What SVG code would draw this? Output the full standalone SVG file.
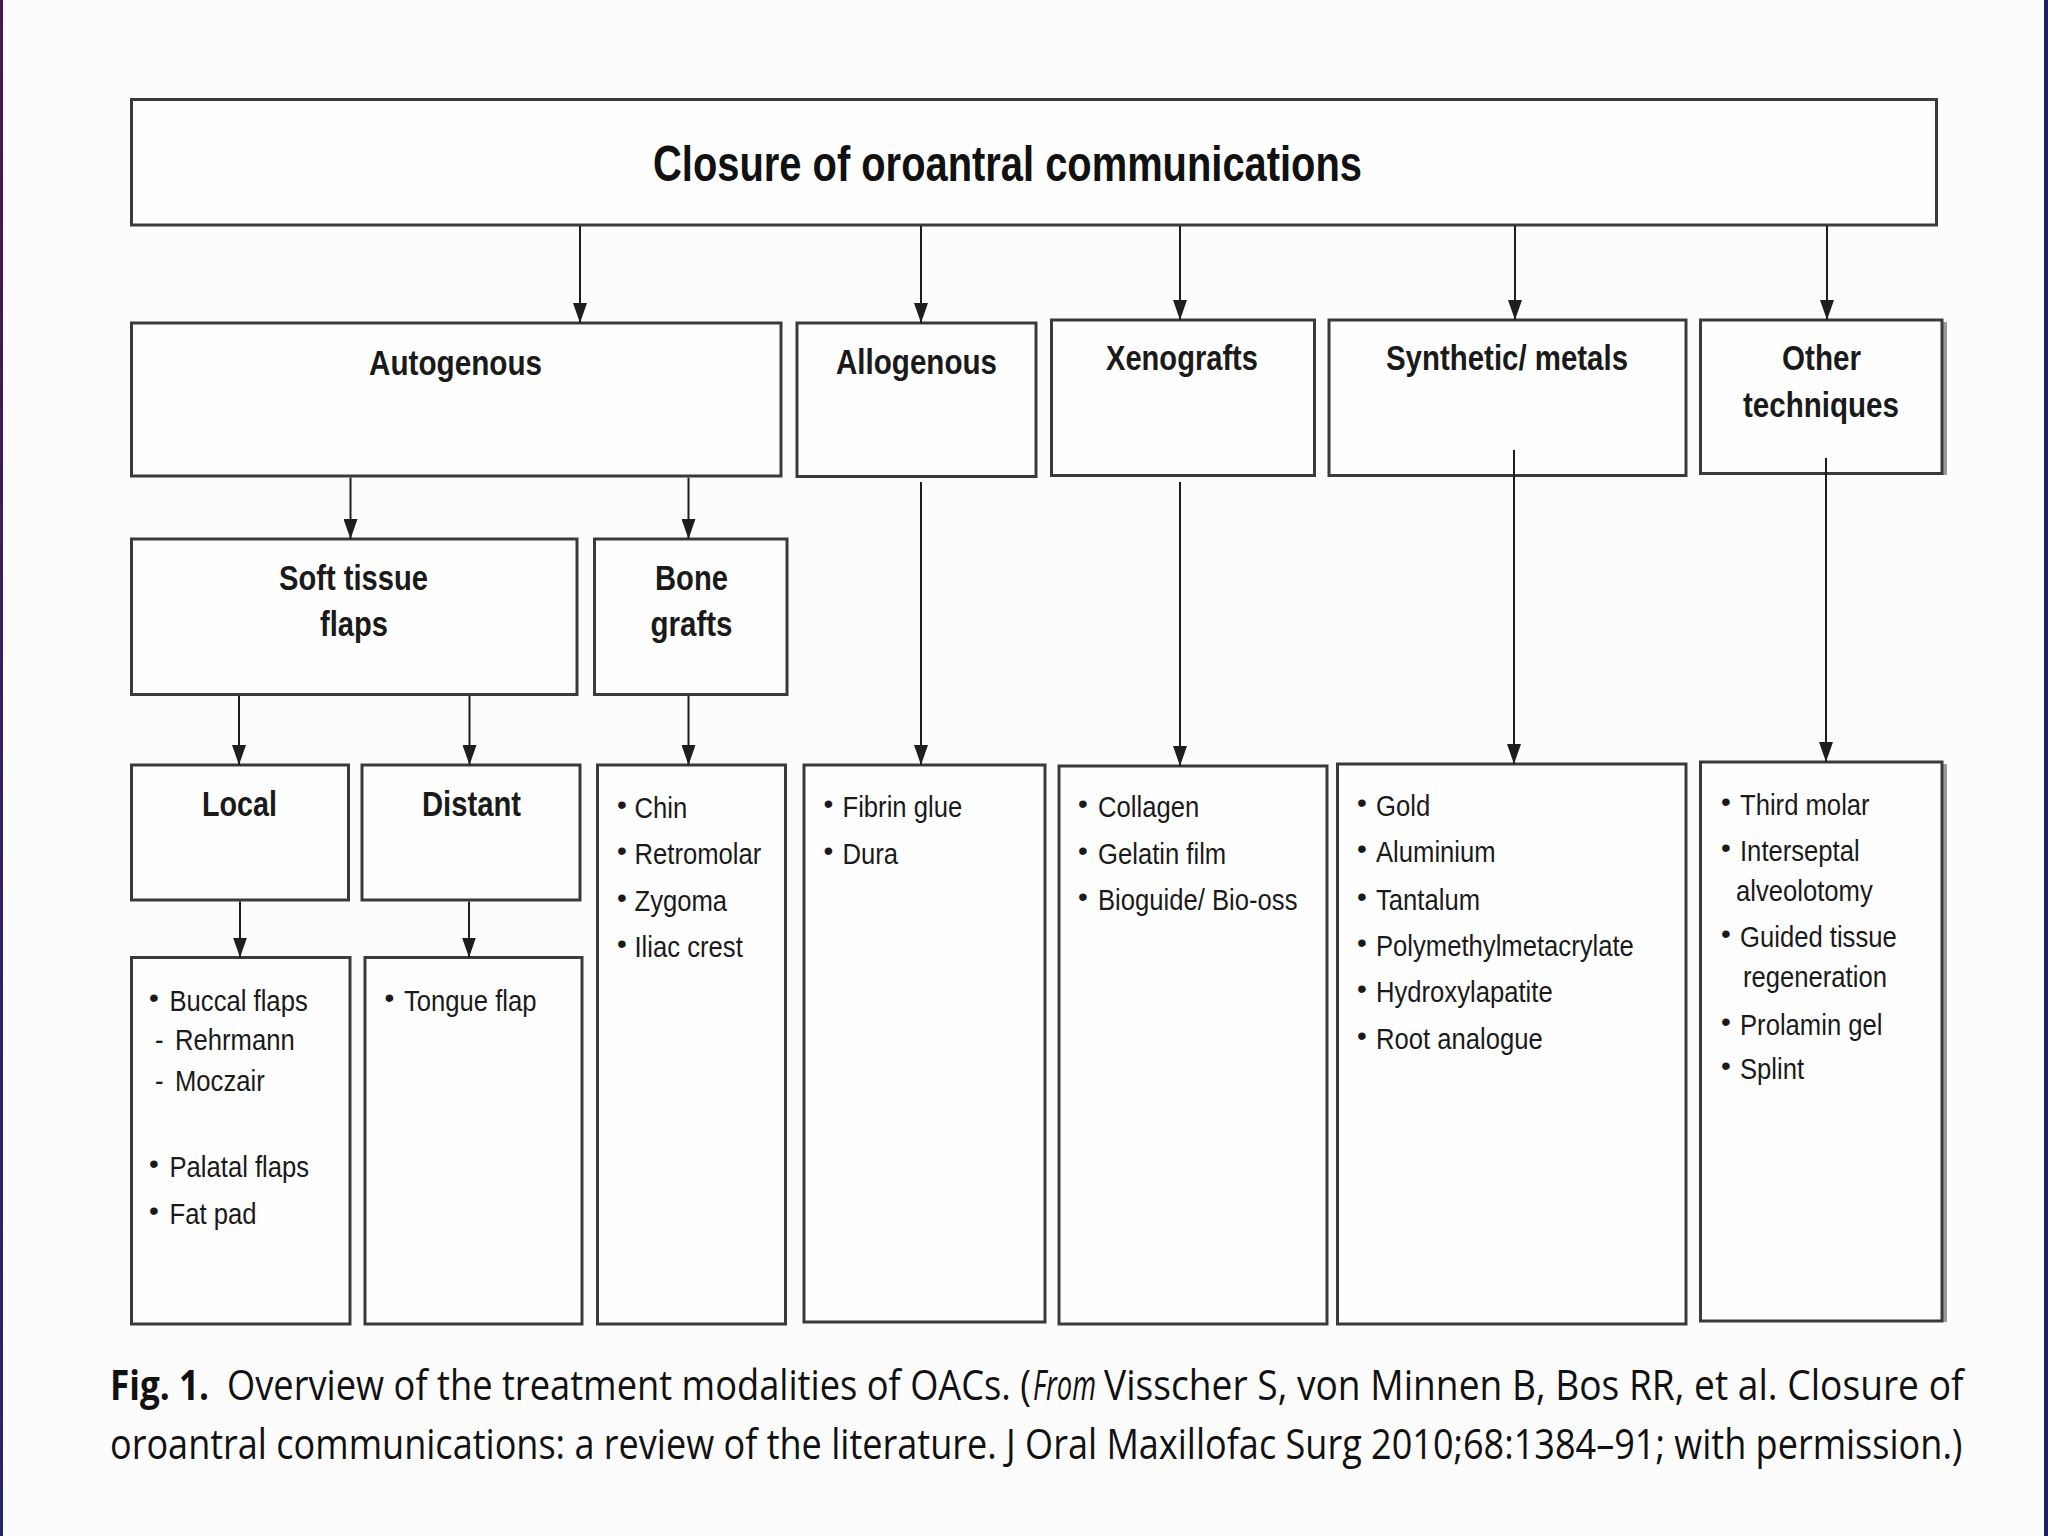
<svg xmlns="http://www.w3.org/2000/svg" width="2048" height="1536" viewBox="0 0 2048 1536">
  <style>
    .box { fill: #fefefe; stroke: #3a3a3a; stroke-width: 3; }
    .shadow { fill: none; stroke: #9a9a9a; stroke-width: 4; }
    .hd { font-family: "Liberation Sans", Arial, sans-serif; font-weight: bold; font-size: 35px; fill: #1a1a1a; }
    .ttl { font-family: "Liberation Sans", Arial, sans-serif; font-weight: bold; font-size: 50px; fill: #111; }
    .li { font-family: "Liberation Sans", Arial, sans-serif; font-size: 30px; fill: #1a1a1a; }
    .bu { font-family: "Liberation Sans", Arial, sans-serif; font-size: 28px; fill: #1a1a1a; text-anchor: middle; }
    .cap { font-family: "Open Sans", "Liberation Sans", sans-serif; font-size: 42px; fill: #111; }
    .con { fill: none; stroke: #1e1e1e; stroke-width: 2; marker-end: url(#arr); }
  </style>
  <defs>
    <marker id="arr" viewBox="0 0 20 14" refX="20" refY="7" markerWidth="20" markerHeight="14" markerUnits="userSpaceOnUse" orient="auto">
      <path d="M0,0 L20,7 L0,14 z" fill="#1e1e1e"/>
    </marker>
    <linearGradient id="edge" x1="0" y1="0" x2="0" y2="1">
      <stop offset="0" stop-color="#4a1858"/>
      <stop offset="1" stop-color="#23286e"/>
    </linearGradient>
  </defs>

  <rect x="0" y="0" width="2048" height="1536" fill="#fdfcfd"/>
  <rect x="0" y="0" width="3" height="1536" fill="url(#edge)"/>
  <rect x="2044" y="0" width="4" height="1536" fill="#1f2366"/>

  <g id="node-root">
    <rect class="box" x="131.5" y="99.5" width="1805" height="125.5"/>
    <text class="ttl" x="653" y="181" textLength="709" lengthAdjust="spacingAndGlyphs">Closure of oroantral communications</text>
  </g>

  <g id="node-autogenous">
    <rect class="box" x="131.5" y="323" width="649.5" height="153"/>
    <text class="hd" x="369" y="375" textLength="173" lengthAdjust="spacingAndGlyphs">Autogenous</text>
  </g>
  <g id="node-allogenous">
    <rect class="box" x="797" y="323" width="239" height="153.5"/>
    <text class="hd" x="836" y="374" textLength="161" lengthAdjust="spacingAndGlyphs">Allogenous</text>
  </g>
  <g id="node-xenografts">
    <rect class="box" x="1051.5" y="320" width="263" height="155.5"/>
    <text class="hd" x="1106" y="370" textLength="152" lengthAdjust="spacingAndGlyphs">Xenografts</text>
  </g>
  <g id="node-synthetic">
    <rect class="box" x="1329" y="320" width="357" height="155.5"/>
    <text class="hd" x="1386" y="370" textLength="242" lengthAdjust="spacingAndGlyphs">Synthetic/ metals</text>
  </g>
  <g id="node-other">
    <line class="shadow" x1="1945" y1="322" x2="1945" y2="475"/>
    <rect class="box" x="1700.5" y="320" width="241.5" height="153.5"/>
    <text class="hd" x="1782" y="370" textLength="79" lengthAdjust="spacingAndGlyphs">Other</text>
    <text class="hd" x="1743" y="417" textLength="156" lengthAdjust="spacingAndGlyphs">techniques</text>
  </g>

  <g id="node-soft-tissue">
    <rect class="box" x="131.5" y="539" width="445.5" height="155.5"/>
    <text class="hd" x="279" y="590" textLength="149" lengthAdjust="spacingAndGlyphs">Soft tissue</text>
    <text class="hd" x="320" y="636" textLength="68" lengthAdjust="spacingAndGlyphs">flaps</text>
  </g>
  <g id="node-bone-grafts">
    <rect class="box" x="594.5" y="539" width="192.5" height="155.5"/>
    <text class="hd" x="655" y="590" textLength="73" lengthAdjust="spacingAndGlyphs">Bone</text>
    <text class="hd" x="650.5" y="636" textLength="82" lengthAdjust="spacingAndGlyphs">grafts</text>
  </g>

  <g id="node-local">
    <rect class="box" x="131.5" y="765" width="217" height="135"/>
    <text class="hd" x="202" y="816" textLength="75" lengthAdjust="spacingAndGlyphs">Local</text>
  </g>
  <g id="node-distant">
    <rect class="box" x="362" y="765" width="218" height="135"/>
    <text class="hd" x="422" y="816" textLength="99" lengthAdjust="spacingAndGlyphs">Distant</text>
  </g>

  <g id="node-bone-list">
    <rect class="box" x="597.5" y="765" width="188" height="559"/>
    <text class="bu" x="622" y="814">•</text>
    <text class="li" transform="translate(634.5,818) scale(0.855,1)">Chin</text>
    <text class="bu" x="622" y="860">•</text>
    <text class="li" transform="translate(634.5,864) scale(0.855,1)">Retromolar</text>
    <text class="bu" x="622" y="906.5">•</text>
    <text class="li" transform="translate(634.5,910.5) scale(0.855,1)">Zygoma</text>
    <text class="bu" x="622" y="953">•</text>
    <text class="li" transform="translate(634.5,957) scale(0.855,1)">Iliac crest</text>
  </g>

  <g id="node-local-list">
    <rect class="box" x="131.5" y="957.5" width="218.5" height="366.5"/>
    <text class="bu" x="154" y="1007">•</text>
    <text class="li" transform="translate(169.5,1011) scale(0.855,1)">Buccal flaps</text>
    <text class="li" transform="translate(155,1050) scale(0.855,1)">-</text>
    <text class="li" transform="translate(175,1050) scale(0.855,1)">Rehrmann</text>
    <text class="li" transform="translate(155,1091) scale(0.855,1)">-</text>
    <text class="li" transform="translate(175,1091) scale(0.855,1)">Moczair</text>
    <text class="bu" x="154" y="1173">•</text>
    <text class="li" transform="translate(169.5,1177) scale(0.855,1)">Palatal flaps</text>
    <text class="bu" x="154" y="1220">•</text>
    <text class="li" transform="translate(169.5,1224) scale(0.855,1)">Fat pad</text>
  </g>

  <g id="node-distant-list">
    <rect class="box" x="365" y="957.5" width="217" height="366.5"/>
    <text class="bu" x="389.5" y="1007">•</text>
    <text class="li" transform="translate(404,1011) scale(0.855,1)">Tongue flap</text>
  </g>

  <g id="node-allogenous-list">
    <rect class="box" x="804" y="765" width="241" height="557"/>
    <text class="bu" x="828.5" y="813">•</text>
    <text class="li" transform="translate(842.5,817) scale(0.855,1)">Fibrin glue</text>
    <text class="bu" x="828.5" y="859.5">•</text>
    <text class="li" transform="translate(842.5,863.5) scale(0.855,1)">Dura</text>
  </g>

  <g id="node-xenografts-list">
    <rect class="box" x="1059" y="766" width="268" height="558"/>
    <text class="bu" x="1083" y="813">•</text>
    <text class="li" transform="translate(1098,817) scale(0.855,1)">Collagen</text>
    <text class="bu" x="1083" y="859.5">•</text>
    <text class="li" transform="translate(1098,863.5) scale(0.855,1)">Gelatin film</text>
    <text class="bu" x="1083" y="906">•</text>
    <text class="li" transform="translate(1098,910) scale(0.855,1)">Bioguide/ Bio-oss</text>
  </g>

  <g id="node-synthetic-list">
    <rect class="box" x="1337.5" y="764" width="348.5" height="560"/>
    <text class="bu" x="1362" y="812">•</text>
    <text class="li" transform="translate(1376,816) scale(0.855,1)">Gold</text>
    <text class="bu" x="1362" y="858">•</text>
    <text class="li" transform="translate(1376,862) scale(0.855,1)">Aluminium</text>
    <text class="bu" x="1362" y="905.5">•</text>
    <text class="li" transform="translate(1376,909.5) scale(0.855,1)">Tantalum</text>
    <text class="bu" x="1362" y="951.5">•</text>
    <text class="li" transform="translate(1376,955.5) scale(0.855,1)">Polymethylmetacrylate</text>
    <text class="bu" x="1362" y="998">•</text>
    <text class="li" transform="translate(1376,1002) scale(0.855,1)">Hydroxylapatite</text>
    <text class="bu" x="1362" y="1045">•</text>
    <text class="li" transform="translate(1376,1049) scale(0.855,1)">Root analogue</text>
  </g>

  <g id="node-other-list">
    <line class="shadow" x1="1945" y1="764" x2="1945" y2="1322"/>
    <rect class="box" x="1700.5" y="762" width="241.5" height="559"/>
    <text class="bu" x="1726" y="811">•</text>
    <text class="li" transform="translate(1740,815) scale(0.855,1)">Third molar</text>
    <text class="bu" x="1726" y="857">•</text>
    <text class="li" transform="translate(1740,861) scale(0.855,1)">Interseptal</text>
    <text class="li" transform="translate(1736,901) scale(0.855,1)">alveolotomy</text>
    <text class="bu" x="1726" y="943">•</text>
    <text class="li" transform="translate(1740,947) scale(0.855,1)">Guided tissue</text>
    <text class="li" transform="translate(1743,987) scale(0.855,1)">regeneration</text>
    <text class="bu" x="1726" y="1031">•</text>
    <text class="li" transform="translate(1740,1035) scale(0.855,1)">Prolamin gel</text>
    <text class="bu" x="1726" y="1075">•</text>
    <text class="li" transform="translate(1740,1079) scale(0.855,1)">Splint</text>
  </g>

  <g id="connectors">
    <path class="con" d="M580,226 V323"/>
    <path class="con" d="M921,226 V323"/>
    <path class="con" d="M1180,226 V320"/>
    <path class="con" d="M1515,226 V320"/>
    <path class="con" d="M1827,226 V320"/>
    <path class="con" d="M350.5,477.5 V539"/>
    <path class="con" d="M688.5,477.5 V539"/>
    <path class="con" d="M239,696 V765"/>
    <path class="con" d="M469.5,696 V765"/>
    <path class="con" d="M688.5,696 V765"/>
    <path class="con" d="M240,901.5 V957.5"/>
    <path class="con" d="M469,901.5 V957.5"/>
    <path class="con" d="M921,482 V765"/>
    <path class="con" d="M1180,482 V766"/>
    <path class="con" d="M1514,450 V764"/>
    <path class="con" d="M1826,458 V762"/>
  </g>

  <g id="caption">
    <text class="cap" font-weight="bold" transform="translate(110,1400) scale(0.75,1)" textLength="132" lengthAdjust="spacingAndGlyphs">Fig. 1.</text>
    <text class="cap" transform="translate(227,1400) scale(0.75,1)" textLength="1072" lengthAdjust="spacingAndGlyphs">Overview of the treatment modalities of OACs. (</text>
    <text class="cap" font-style="italic" transform="translate(1033,1400) scale(0.75,1)" textLength="84" lengthAdjust="spacingAndGlyphs">From</text>
    <text class="cap" transform="translate(1104,1400) scale(0.75,1)" textLength="1146" lengthAdjust="spacingAndGlyphs">Visscher S, von Minnen B, Bos RR, et al. Closure of</text>
    <text class="cap" transform="translate(110,1459) scale(0.75,1)" textLength="2470" lengthAdjust="spacingAndGlyphs">oroantral communications: a review of the literature. J Oral Maxillofac Surg 2010;68:1384–91; with permission.)</text>
  </g>
</svg>
